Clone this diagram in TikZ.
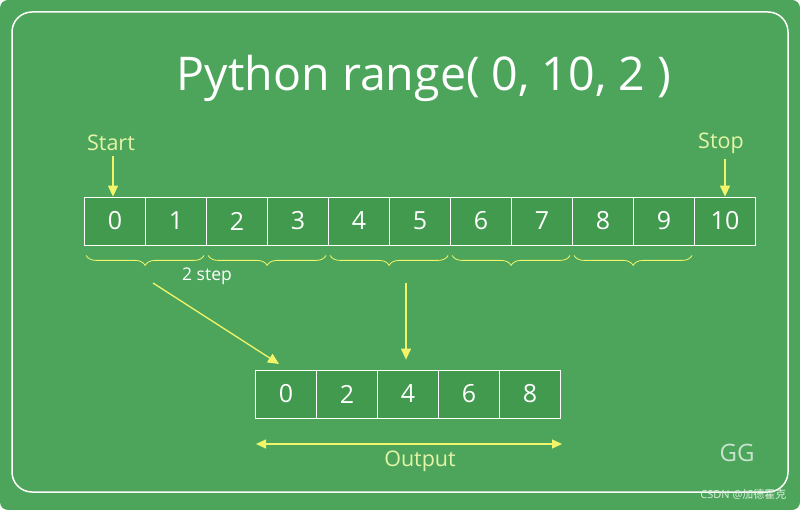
\documentclass[tikz,border=0pt]{standalone}
\usepackage{fontspec}
\setmainfont{Open Sans}
\newfontfamily\cjk{Noto Sans CJK SC}
\usetikzlibrary{decorations.pathreplacing,arrows.meta,calc}
\definecolor{bg}{HTML}{4CA55A}
\definecolor{cellbg}{HTML}{419A4E}
\definecolor{yel}{HTML}{F2F56A}
\definecolor{lbl}{HTML}{E4F5A8}
\begin{document}
\begin{tikzpicture}[x=1pt,y=-1pt,
  cell/.style={draw=white,fill=cellbg,line width=0.8pt,minimum width=61pt,minimum height=48pt,inner sep=0pt,text=white,font=\fontsize{25}{28}\selectfont},
  yarrow/.style={draw=yel,line width=1.3pt,-{Triangle[length=11pt,width=10pt]}},
  brc/.style={draw=yel,line width=0.8pt,decorate,decoration={brace,mirror,amplitude=10pt}},
  lab/.style={text=lbl,font=\fontsize{21.5}{24}\selectfont}]
\useasboundingbox (0,0) rectangle (800,510);
\fill[bg,rounded corners=8pt] (0,0) rectangle (800,510);
\draw[white,line width=1.5pt,rounded corners=20pt] (12,12) rectangle (788,492);
\node[text=white,font=\fontsize{46.5}{50}\selectfont] (title) at (424,78) {Python range( 0, 10, 2 )};
\foreach \v [count=\i from 0] in {0,...,10}
  \node[cell] (t\i) at (115+61*\i,221) {\v};
\foreach \v [count=\i from 0] in {0,2,4,6,8}
  \node[cell] (b\i) at (286+61*\i,394) {\v};
\node[lab] (start) at (111,143) {Start};
\node[lab] (stop) at (721,143) {Stop};
\draw[yarrow] ($(start.south)+(2,2)$) coordinate (s1) -- (s1 |- t0.north);
\draw[yarrow] ($(stop.south)+(4,2)$) coordinate (s2) -- (s2 |- t10.north);
\foreach \a/\b in {0/2,2/4,4/6,6/8,8/10}
  \draw[brc] ($(t\a.south west)+(2,10)$) -- ($(t\b.south west)+(-2,10)$);
\node[text=white,font=\fontsize{17.5}{20}\selectfont] (step) at (207,276) {2 step};
\coordinate (p1) at (153,283);
\coordinate (p2) at (406,283);
\coordinate (p3) at (279,364);
\draw[yarrow] (p1) -- (p3);
\draw[yarrow] (p2) -- ($(p2 |- b2.north)+(0,-10)$);
\coordinate (o1) at (256,444);
\coordinate (o2) at (562,444);
\draw[draw=yel,line width=1.3pt,{Triangle[length=10pt,width=9pt]}-{Triangle[length=10pt,width=9pt]}] (o1) -- (o2);
\node[lab] (out) at (420,461) {Output};
\node[text=white!70!bg,font=\fontsize{24}{26}\selectfont] (gg) at (737,453) {GG};
\node[text=white!80!bg,font=\fontsize{11}{13}\selectfont,anchor=east] (csdn) at (790,494) {CSDN @{\cjk 加德霍克}};
\end{tikzpicture}
\end{document}
